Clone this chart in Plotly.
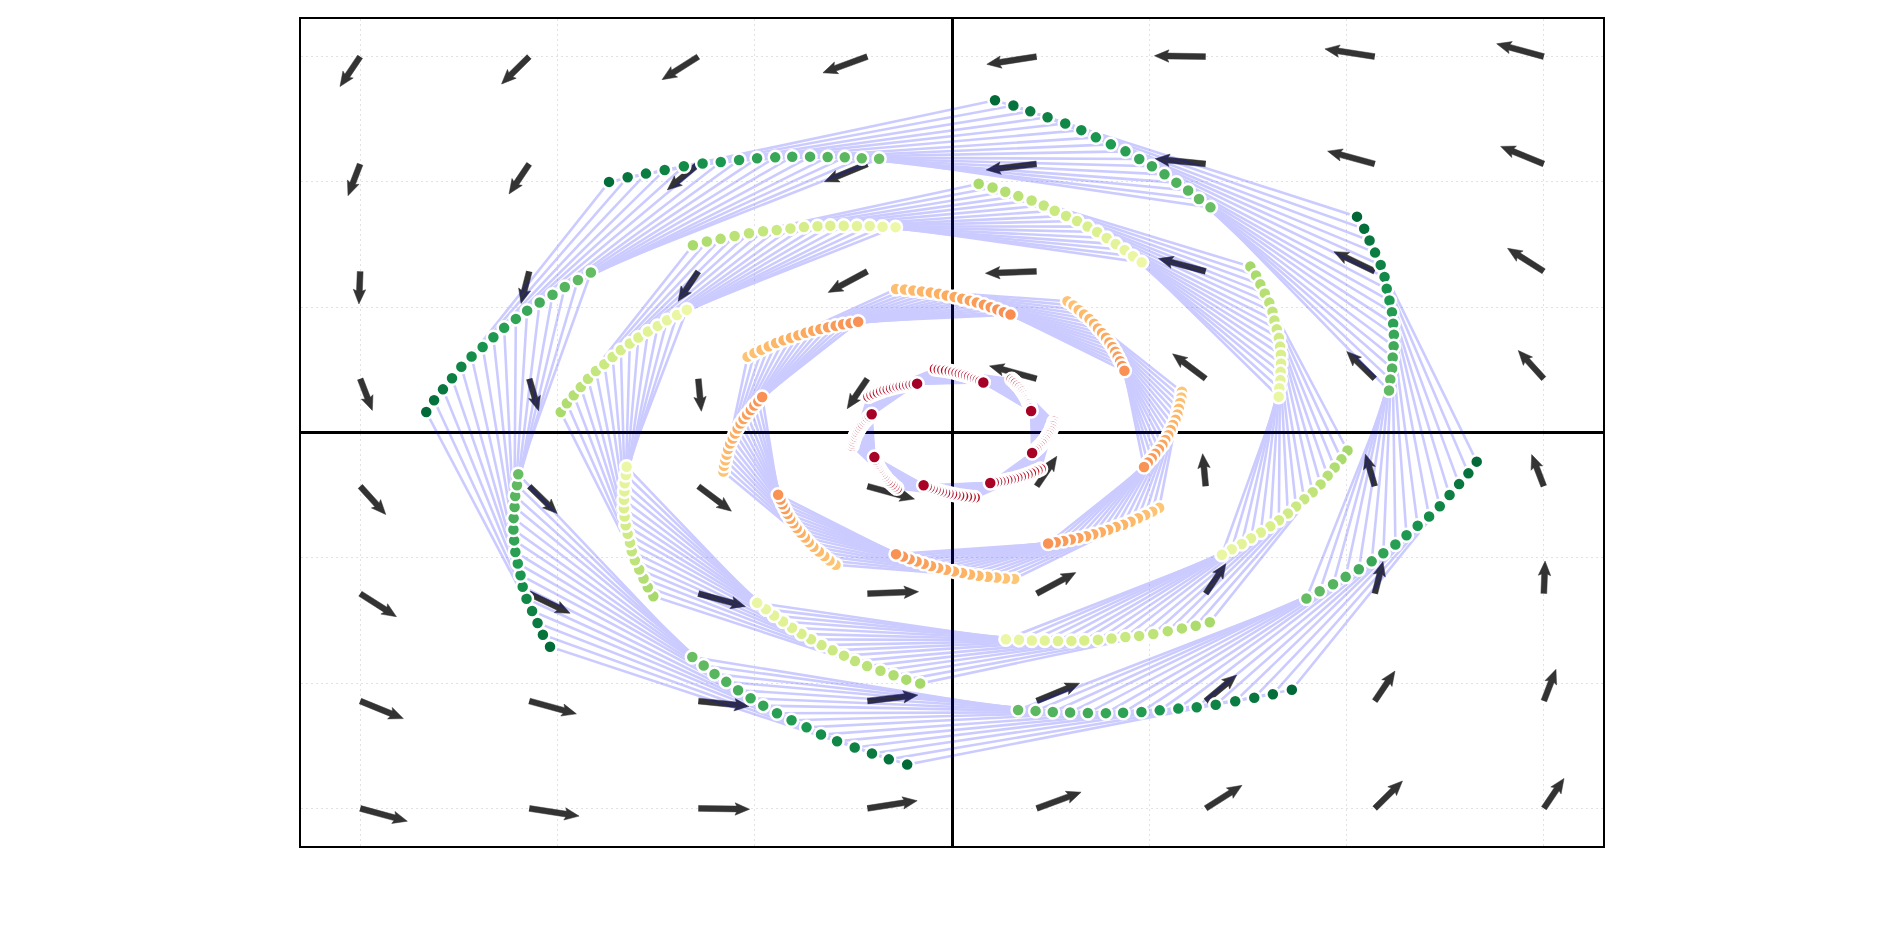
import math
import plotly.graph_objects as go

# ---------------- data ----------------
# Four rings of 8 arcs each. For every arc: start angle (deg, CCW from +x) and start radius.
outer_angle = [176.5, 131.0, 85.3, 40.0, -5.0, -50.0, -94.9, -140.0]
outer_radius = [2.67, 2.65, 2.66, 2.68, 2.67, 2.68, 2.66, 2.66]
second_angle = [175.3, 131.3, 86.1, 41.2, -4.1, -49.2, -94.6, -139.2]
second_radius = [1.99, 1.99, 1.99, 2.01, 2.01, 2.00, 2.01, 2.00]
third_angle = [149.7, 103.9, 60.8, 15.6, -29.8, -74.9, -119.2, -165.0]
third_radius = [1.20, 1.18, 1.20, 1.21, 1.21, 1.21, 1.21, 1.20]
inner_angle = [191.8, 145.8, 99.7, 54.6, 9.4, -32.9, -77.5, -122.1]
inner_radius = [0.517, 0.512, 0.514, 0.522, 0.524, 0.535, 0.532, 0.526]

# 16 steps along every arc: clockwise turn (deg) and radius ratio
step_turn = [0.0, 2.1, 4.1, 6.2, 8.4, 10.5, 12.5, 14.6, 16.7, 18.8, 20.8, 22.9, 25.0, 27.1, 29.2, 31.4]
step_ratio = [1.0, 0.988, 0.975, 0.963, 0.952, 0.940, 0.927, 0.916, 0.906, 0.895, 0.885, 0.874, 0.863, 0.854, 0.844, 0.836]

# vector field grid (arrow tails) and arrow directions (deg), rows from top to bottom
arrow_x = [-3.0, -2.143, -1.286, -0.429, 0.429, 1.286, 2.143, 3.0]
arrow_y = [3.0, 2.143, 1.286, 0.429, -0.429, -1.286, -2.143, -3.0]
arrow_angle = [
    [246.8, 237.3, 225.0, 209.9, 193.7, 178.6, 166.3, 156.8],
    [256.3, 246.8, 232.8, 213.1, 190.5, 170.8, 156.8, 147.3],
    [268.6, 260.8, 246.8, 220.2, 183.4, 156.8, 142.8, 135.0],
    [283.7, 280.5, 273.4, 246.8, 156.8, 130.2, 123.1, 119.9],
    [299.9, 303.1, 310.2, 336.8, 66.8, 93.4, 100.5, 103.7],
    [315.0, 322.8, 336.8, 3.4, 40.2, 66.8, 80.8, 88.6],
    [327.3, 336.8, 350.8, 10.5, 33.1, 52.8, 66.8, 76.3],
    [336.8, 346.3, 358.6, 13.7, 29.9, 45.0, 57.3, 66.8],
]
arrow_len = 0.26  # data units

# ---------------- layout geometry ----------------
W, H = 1888, 936
ML, MR, MT, MB = 293, 293, 9, 98
XR = [-3.3, 3.3]
YR = [-3.3, 3.3]
pxx = (W - ML - MR) / (XR[1] - XR[0])
pxy = (H - MT - MB) / (YR[1] - YR[0])

rings = [
    (outer_angle, outer_radius),
    (second_angle, second_radius),
    (third_angle, third_radius),
    (inner_angle, inner_radius),
]

# points
pts = []  # ring -> seg -> list of (x, y, r)
for ang_list, rad_list in rings:
    ring = []
    for a0, r0 in zip(ang_list, rad_list):
        seg = []
        for turn, ratio in zip(step_turn, step_ratio):
            r = r0 * ratio
            th = math.radians(a0 - turn)
            seg.append((r * math.cos(th), r * math.sin(th), r))
        ring.append(seg)
    pts.append(ring)

# connecting lines: for every ring and step, a closed loop through the 8 arcs
lx, ly = [], []
for ring in pts:
    for t in range(len(step_turn)):
        for seg in ring + [ring[0]]:
            lx.append(seg[t][0])
            ly.append(seg[t][1])
        lx.append(None)
        ly.append(None)

mx, my, mc = [], [], []
for ring in pts:
    for seg in ring:
        for x, y, r in seg:
            mx.append(x)
            my.append(y)
            mc.append(r)

# arrows as filled polygons (shape built in pixel space, mapped back through axis scales)
ax_, ay_ = [], []
w, hw, hl, bs = 2.9, 6.2, 13.0, 1.5
for j, y0 in enumerate(arrow_y):
    for i, x0 in enumerate(arrow_x):
        a = math.radians(arrow_angle[j][i])
        dx = arrow_len * math.cos(a) * pxx
        dy = arrow_len * math.sin(a) * pxy
        S = math.hypot(dx, dy)
        ex, ey = dx / S, dy / S
        nx, ny = -ey, ex
        local = [(0, w), (S - hl, w), (S - hl - bs, hw), (S, 0),
                 (S - hl - bs, -hw), (S - hl, -w), (0, -w)]
        for u, v in local:
            px = u * ex + v * nx
            py = u * ey + v * ny
            ax_.append(x0 + px / pxx)
            ay_.append(y0 + py / pxy)
        ax_.append(None)
        ay_.append(None)

fig = go.Figure()
fig.add_trace(go.Scatter(
    x=ax_, y=ay_, mode="lines", fill="toself",
    fillcolor="#333333", line=dict(color="#333333", width=0.5),
    hoverinfo="skip", showlegend=False,
))
fig.add_trace(go.Scatter(
    x=lx, y=ly, mode="lines",
    line=dict(color="rgb(0,0,255)", width=2.6),
    opacity=0.2,
    hoverinfo="skip", showlegend=False,
))
fig.add_trace(go.Scatter(
    x=mx, y=my, mode="markers",
    marker=dict(size=13, color=mc, colorscale="RdYlGn", showscale=False,
                line=dict(color="white", width=2.5)),
    showlegend=False,
))

axis_common = dict(
    showticklabels=False, ticks="", dtick=1, tick0=0,
    showgrid=True, gridcolor="#e2e2e2", griddash="2px,3px", gridwidth=1,
    zeroline=True, zerolinecolor="black", zerolinewidth=2.5,
    showline=True, linecolor="black", linewidth=2, mirror=True,
)
fig.update_layout(
    width=W, height=H,
    margin=dict(l=ML, r=MR, t=MT, b=MB),
    paper_bgcolor="white", plot_bgcolor="white",
    xaxis=dict(range=XR, **axis_common),
    yaxis=dict(range=YR, **axis_common),
    showlegend=False,
)
fig.write_html("out.html")
